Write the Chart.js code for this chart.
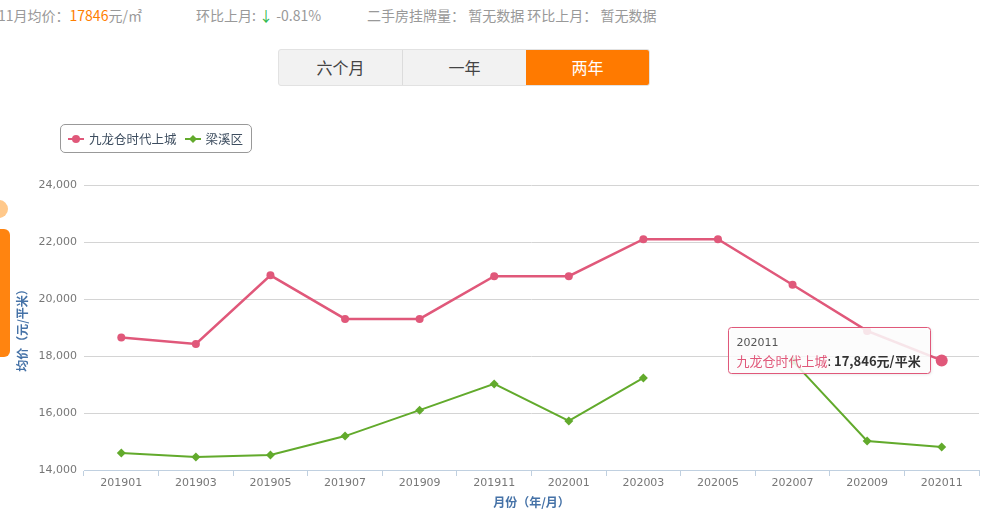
<!DOCTYPE html>
<html>
<head>
<meta charset="utf-8">
<script src="https://cdn.jsdelivr.net/npm/chart.js@4.4.1/dist/chart.umd.min.js"></script>
<style>
    body { margin: 0; width: 1000px; height: 514px; overflow: hidden; background: #fff; position: relative;
           font-family: "Noto Sans CJK SC", "Noto Sans", sans-serif; }
    #priceChart { position: absolute; left: 0; top: 0; }
    .info { position: absolute; top: 4px; font-size: 14px; color: #999; white-space: nowrap; line-height: 22px; }
    .info .orange { color: #ff7e00; }
    .info .down { color: #2eb94a; }
    .tabs { position: absolute; left: 278px; top: 49px; width: 372px; height: 37px; display: flex;
            border: 1px solid #e2e2e2; border-radius: 3px; box-sizing: border-box; overflow: hidden; background: #f2f2f2; }
    .tabs div { flex: 1; text-align: center; line-height: 35px; font-size: 16px; color: #444; }
    .tabs div + div { border-left: 1px solid #dcdcdc; }
    .tabs .active { background: #ff7a00; color: #fff; border-left: none; }
    .legend { position: absolute; left: 60px; top: 124px; height: 29px; box-sizing: border-box; border: 1px solid #999;
              border-radius: 5px; display: flex; align-items: center; padding: 0 8px 0 7px; font-size: 12.5px; color: #3d4d5f; z-index: 2; }
    .legend span.item { display: flex; align-items: center; margin-right: 8px; }
    .legend span.item:last-child { margin-right: 0; }
    .legend canvas { margin-right: 5px; }
    .side { position: absolute; left: -20px; top: 229px; width: 30px; height: 128px; background: #ff8410; border-radius: 6px; }
    .side-icon { position: absolute; left: -10px; top: 200px; width: 18px; height: 18px; border-radius: 50%; background: #ffc88a; }
</style>
</head>
<body>
<div class="info" style="left:-2px">11月均价：<span class="orange">17846</span>元/㎡</div>
<div class="info" style="left:196px">环比上月: <span class="down">↓</span> -0.81%</div>
<div class="info" style="left:367px">二手房挂牌量：&nbsp;暂无数据 环比上月：&nbsp;暂无数据</div>

<div class="tabs"><div>六个月</div><div>一年</div><div class="active">两年</div></div>

<div class="legend" id="legend"></div>
<div class="side-icon"></div>
<div class="side"></div>

<canvas id="priceChart" width="1000" height="514"></canvas>

<script>
// ================= DATA =================
const months = ['201901', '201903', '201905', '201907', '201909', '201911',
                '202001', '202003', '202005', '202007', '202009', '202011'];
const projectName = '九龙仓时代上城';
const districtName = '梁溪区';
const projectPrice = [18650, 18420, 20830, 19300, 19300, 20800, 20800, 22100, 22100, 20500, 18880, 17846];
const districtPrice = [14600, 14460, 14530, 15190, 16100, 17020, 15720, 17230, null, 17830, 15020, 14810];
const yMin = 14000;
const yMax = 24000;
const yStep = 2000;

const RED = '#e0587a';
const GREEN = '#62aa2c';

const lastIdx = months.length - 1;

// ================= TOOLTIP (fixed on last point) =================
const tipPlugin = {
    id: 'tipBox',
    afterDraw(chart) {
        const pt = chart.getDatasetMeta(0).data[lastIdx];
        const ctx = chart.ctx;

        const name = projectName;
        const valueText = projectPrice[lastIdx].toLocaleString('en-US') + '元/平米';

        ctx.save();
        ctx.font = '13px "Noto Sans CJK SC"';
        const nameW = ctx.measureText(name + ': ').width;
        ctx.font = 'bold 13px "Noto Sans CJK SC"';
        const valW = ctx.measureText(valueText).width;

        const w = Math.round(nameW + valW + 18);
        const h = 46;
        const x = Math.round(pt.x - 12 - w) + 0.5;
        const y = Math.round(pt.y - 33) + 0.5;

        // shadow
        ctx.shadowColor = 'rgba(0,0,0,0.12)';
        ctx.shadowOffsetX = 1;
        ctx.shadowOffsetY = 1;
        ctx.shadowBlur = 3;
        ctx.beginPath();
        ctx.roundRect(x, y, w, h, 3);
        ctx.fillStyle = 'rgba(255,255,255,0.85)';
        ctx.fill();
        ctx.shadowColor = 'transparent';
        ctx.lineWidth = 1;
        ctx.strokeStyle = RED;
        ctx.stroke();

        ctx.textBaseline = 'middle';
        ctx.textAlign = 'left';
        ctx.font = '11px "DejaVu Sans"';
        ctx.fillStyle = '#555';
        ctx.fillText(months[lastIdx], x + 8, y + 16);

        ctx.font = '13px "Noto Sans CJK SC"';
        ctx.fillStyle = RED;
        ctx.fillText(name, x + 8, y + 34);
        ctx.fillStyle = '#333';
        ctx.fillText(':', x + 8 + ctx.measureText(name).width, y + 34);
        ctx.font = 'bold 13px "Noto Sans CJK SC"';
        ctx.fillText(valueText, x + 8 + nameW, y + 34);
        ctx.restore();
    }
};

// ================= CHART =================
const chart = new Chart(document.getElementById('priceChart'), {
    type: 'line',
    data: {
        labels: months,
        datasets: [{
            label: projectName,
            data: projectPrice,
            borderColor: RED,
            backgroundColor: RED,
            borderWidth: 2.5,
            pointStyle: 'circle',
            pointRadius: ctx => ctx.dataIndex === lastIdx ? 6 : 4,
            pointBorderWidth: 0,
            tension: 0
        }, {
            label: districtName,
            data: districtPrice,
            borderColor: GREEN,
            backgroundColor: GREEN,
            borderWidth: 2,
            pointStyle: 'rectRot',
            pointRadius: 4.5,
            pointBorderWidth: 0,
            spanGaps: false,
            tension: 0
        }]
    },
    options: {
        responsive: false,
        animation: false,
        events: [],
        layout: { padding: { top: 185, right: 21, left: 15, bottom: 4 } },
        plugins: {
            legend: { display: false },
            tooltip: { enabled: false }
        },
        scales: {
            x: {
                offset: true,
                grid: { display: true, drawOnChartArea: false, drawTicks: true, tickLength: 6, color: '#c0d0e0', offset: true },
                border: { color: '#c0d0e0' },
                ticks: { color: '#777', font: { family: 'DejaVu Sans', size: 11 }, padding: 1, maxRotation: 0, autoSkip: false },
                title: {
                    display: true, text: '月份（年/月）', color: '#4572a7',
                    font: { family: 'Noto Sans CJK SC', size: 12, weight: 'bold' }, padding: { top: 3, bottom: 0 }
                },
                afterFit: s => { s.height = 40; }
            },
            y: {
                min: yMin,
                max: yMax,
                grid: { color: '#d4d4d4', drawTicks: false },
                border: { display: false },
                ticks: {
                    stepSize: yStep, padding: 7, color: '#777',
                    font: { family: 'DejaVu Sans', size: 11 },
                    callback: v => v.toLocaleString('en-US')
                },
                title: {
                    display: true, text: '均价（元/平米）', color: '#4572a7',
                    font: { family: 'Noto Sans CJK SC', size: 12, weight: 'bold' }, padding: 0
                },
                afterFit: s => { s.width = 69; }
            }
        }
    },
    plugins: [tipPlugin]
});

// ================= HTML LEGEND =================
function buildLegend() {
    const box = document.getElementById('legend');
    chart.data.datasets.forEach(ds => {
        const item = document.createElement('span');
        item.className = 'item';
        const sym = document.createElement('canvas');
        sym.width = 16; sym.height = 10;
        const c = sym.getContext('2d');
        c.strokeStyle = ds.borderColor;
        c.lineWidth = 2;
        c.beginPath(); c.moveTo(0, 5); c.lineTo(16, 5); c.stroke();
        c.fillStyle = ds.borderColor;
        c.beginPath();
        if (ds.pointStyle === 'rectRot') {
            c.moveTo(8, 1); c.lineTo(12, 5); c.lineTo(8, 9); c.lineTo(4, 5); c.closePath();
        } else {
            c.arc(8, 5, 4, 0, Math.PI * 2);
        }
        c.fill();
        item.appendChild(sym);
        item.appendChild(document.createTextNode(ds.label));
        box.appendChild(item);
    });
}
buildLegend();
</script>
</body>
</html>
